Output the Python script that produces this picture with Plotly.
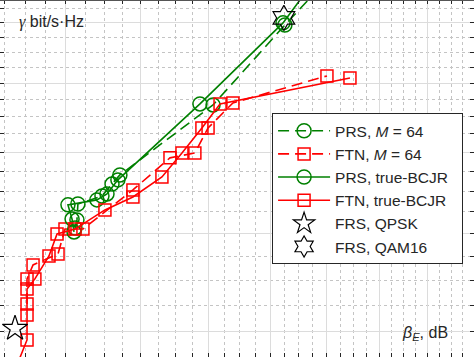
import plotly.graph_objects as go
import math

# Axis coordinates (log axes, unit = one minor grid step)
x_ticks = [32.5 + k for k in range(32)]
x_major = [35.5, 39.5, 43.5, 47.5, 51.5, 55.5, 59.5]
y_ticks = [17 + j for j in range(18)]
y_major = [17, 21, 25, 29, 33]

# FTN, true-BCJR (solid red, squares)
ftn_bcjr_x = [33.05, 33.58, 33.58, 33.58, 33.96, 34.65, 35.05, 35.96, 37.53, 39.06, 40.71, 41.89, 43.10, 44.23, 53.24]
ftn_bcjr_y = [15.74, 16.71, 17.63, 18.64, 19.05, 20.01, 20.98, 21.20, 22.09, 22.71, 23.71, 24.96, 26.34, 27.73, 29.32]
# FTN, M = 64 (dashed red, squares)
ftn_m64_x = [33.58, 33.58, 33.87, 35.10, 35.45, 36.37, 39.06, 41.18, 42.67, 43.48, 45.05, 51.52]
ftn_m64_y = [18.05, 19.05, 19.63, 20.10, 21.20, 21.20, 23.06, 24.70, 24.96, 26.34, 27.79, 29.45]
# PRS, true-BCJR (solid green, circles)
prs_bcjr_x = [35.91, 35.81, 35.60, 37.10, 37.64, 38.23, 42.98, 48.39, 51.01]
prs_bcjr_y = [21.07, 21.66, 22.33, 22.57, 22.86, 23.56, 27.73, 33.00, 36.73]
# PRS, M = 64 (dashed green, circles)
prs_m64_x = [35.96, 36.06, 36.11, 37.37, 37.91, 38.34, 43.79, 48.52, 52.0]
prs_m64_y = [21.25, 21.62, 22.37, 22.76, 23.35, 23.81, 27.67, 32.85, 36.73]
# FRS reference points
frs_qpsk_x = [33.01]
frs_qpsk_y = [17.13]
frs_qam16_x = [48.45]
frs_qam16_y = [33.35]

GREEN = "rgb(0,128,0)"
RED = "rgb(255,0,0)"

fig = go.Figure()
fig.add_trace(go.Scatter(x=prs_m64_x, y=prs_m64_y, name="PRS, <i>M</i> = 64", mode="lines+markers",
                         line=dict(color=GREEN, width=1.6, dash="11px,6px"),
                         marker=dict(symbol="circle-open", size=14, color=GREEN, line=dict(width=1.5))))
fig.add_trace(go.Scatter(x=ftn_m64_x, y=ftn_m64_y, name="FTN, <i>M</i> = 64", mode="lines+markers",
                         line=dict(color=RED, width=1.6, dash="11px,6px"),
                         marker=dict(symbol="square-open", size=12, color=RED, line=dict(width=1.5))))
fig.add_trace(go.Scatter(x=prs_bcjr_x, y=prs_bcjr_y, name="PRS, true-BCJR&nbsp;&nbsp;", mode="lines+markers",
                         line=dict(color=GREEN, width=1.6),
                         marker=dict(symbol="circle-open", size=14, color=GREEN, line=dict(width=1.5))))
fig.add_trace(go.Scatter(x=ftn_bcjr_x, y=ftn_bcjr_y, name="FTN, true-BCJR&nbsp;&nbsp;", mode="lines+markers",
                         line=dict(color=RED, width=1.6),
                         marker=dict(symbol="square-open", size=12, color=RED, line=dict(width=1.5))))
fig.add_trace(go.Scatter(x=frs_qpsk_x, y=frs_qpsk_y, name="FRS, QPSK", mode="markers",
                         marker=dict(symbol="star-open", size=19, color="black", line=dict(width=1.2))))
fig.add_trace(go.Scatter(x=frs_qam16_x, y=frs_qam16_y, name="FRS, QAM16", mode="markers",
                         marker=dict(symbol="hexagram-open", size=19, color="black", line=dict(width=1.2))))

axis_common = dict(showticklabels=False, ticks="inside", ticklen=4, tickcolor="#262626",
                   mirror="ticks", showline=False, zeroline=False,
                   gridcolor="#dcdcdc", gridwidth=1)
fig.update_xaxes(type="log", range=[math.log10(32.31), math.log10(63.55)],
                 tickmode="array", tickvals=x_major,
                 minor=dict(tickmode="array", tickvals=[t for t in x_ticks if t not in x_major],
                            ticks="inside", ticklen=4, tickcolor="#262626",
                            showgrid=True, gridcolor="#c4c4c4", griddash="dot", gridwidth=1),
                 **axis_common)
fig.update_yaxes(type="log", range=[math.log10(16.11), math.log10(34.66)],
                 tickmode="array", tickvals=y_major,
                 minor=dict(tickmode="array", tickvals=[t for t in y_ticks if t not in y_major],
                            ticks="inside", ticklen=4, tickcolor="#262626",
                            showgrid=True, gridcolor="#c4c4c4", griddash="dot", gridwidth=1),
                 **axis_common)

fig.add_shape(type="line", xref="paper", yref="paper", x0=0, x1=1, y0=1, y1=1,
              line=dict(color="#555555", width=2))
fig.add_annotation(xref="paper", yref="paper", x=0.036, y=0.938,
                   text="<span style='font-family:Liberation Serif'><i>γ</i></span> bit/s·Hz",
                   showarrow=False, xanchor="left", yanchor="middle",
                   font=dict(family="Liberation Sans, Arial", size=16, color="#262626"))
fig.add_annotation(xref="paper", yref="paper", x=0.95, y=0.067, text="<i>β<sub>E</sub></i>, dB",
                   showarrow=False, xanchor="right", yanchor="middle",
                   font=dict(family="Liberation Sans, Arial", size=16, color="#262626"))

fig.update_layout(width=474, height=357, margin=dict(l=0, r=0, t=0, b=0),
                  plot_bgcolor="white", paper_bgcolor="white",
                  font=dict(family="Liberation Sans, Arial", size=16, color="#262626"),
                  legend=dict(x=0.574, y=0.683, xanchor="left", yanchor="top",
                              bgcolor="white", bordercolor="#262626", borderwidth=1,
                              font=dict(size=15.5), itemwidth=52, tracegroupgap=0))
fig.write_html("out.html", config={"displayModeBar": False},
               post_script="document.body.style.margin='0';document.body.style.overflow='hidden';")
